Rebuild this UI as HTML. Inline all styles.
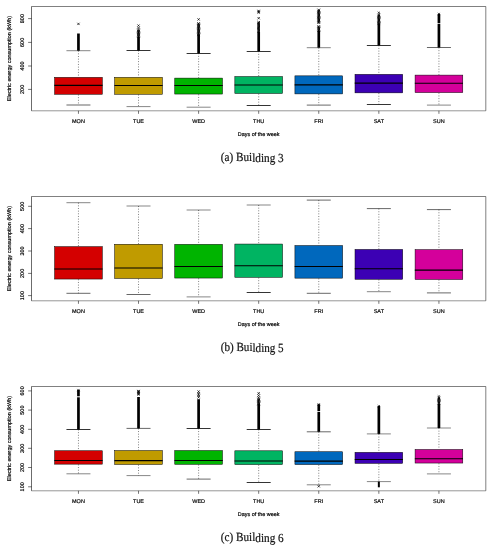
<!DOCTYPE html>
<html><head><meta charset="utf-8"><title>Boxplots</title>
<style>
html,body{margin:0;padding:0;background:#fff}
svg{display:block;text-rendering:geometricPrecision}
.ax{font-family:"Liberation Sans",sans-serif;font-size:55px;fill:#000;stroke:#000;stroke-width:1.8px}
.cap{font-family:"Liberation Serif",serif;font-size:125px;fill:#111;stroke:#111;stroke-width:2px}
</style></head><body>
<svg width="494" height="550" viewBox="0 0 494 550">
<rect width="494" height="550" fill="#fff"/>
<path d="M31.5 110.8V6.5" fill="none" stroke="#000" stroke-width="0.58"/>
<path d="M31.5 6.5H485.8" fill="none" stroke="#000" stroke-width="0.5"/>
<path d="M485.8 6.5V110.8" fill="none" stroke="#000" stroke-width="0.5"/>
<path d="M485.8 110.8H31.5" fill="none" stroke="#000" stroke-width="0.42"/>
<path d="M31.5 18.6H28.1" stroke="#000" stroke-width="0.55"/>
<text transform="translate(24.05 18.6) rotate(-89.9) scale(0.1)" text-anchor="middle" class="ax">800</text>
<path d="M31.5 42.4H28.1" stroke="#000" stroke-width="0.55"/>
<text transform="translate(24.05 42.4) rotate(-89.9) scale(0.1)" text-anchor="middle" class="ax">600</text>
<path d="M31.5 66.0H28.1" stroke="#000" stroke-width="0.55"/>
<text transform="translate(24.05 66.0) rotate(-89.9) scale(0.1)" text-anchor="middle" class="ax">400</text>
<path d="M31.5 89.4H28.1" stroke="#000" stroke-width="0.55"/>
<text transform="translate(24.05 89.4) rotate(-89.9) scale(0.1)" text-anchor="middle" class="ax">200</text>
<text transform="translate(10.75 58.55) rotate(-89.9) scale(0.1)" text-anchor="middle" class="ax" textLength="852.0" lengthAdjust="spacingAndGlyphs">Electric energy consumption (kWh)</text>
<path d="M78.45 110.8V113.8" stroke="#000" stroke-width="0.55"/>
<text transform="translate(78.45 122.7) rotate(0.1) scale(0.1)" text-anchor="middle" class="ax">MON</text>
<path d="M78.45 50.7V77.1M78.45 94.5V105.0" stroke="#000" stroke-width="0.5" stroke-dasharray="1.0 1.65" fill="none"/>
<path d="M66.45 50.7H90.45" stroke="#000" stroke-width="0.48" fill="none"/>
<path d="M66.45 105.0H90.45" stroke="#000" stroke-width="0.6" fill="none"/>
<rect x="54.60" y="77.35" width="47.7" height="16.90" fill="#D40000" stroke="#000" stroke-width="0.5"/>
<path d="M54.35 85.4H102.55" stroke="#000" stroke-width="1.1"/>
<path d="M77.30 22.75L79.60 25.05M77.30 25.05L79.60 22.75" stroke="#000" stroke-width="0.72" fill="none"/>
<path d="M78.45 33.5V50.7" stroke="#000" stroke-width="2.7"/>
<path d="M138.53 110.8V113.8" stroke="#000" stroke-width="0.55"/>
<text transform="translate(138.53 122.7) rotate(0.1) scale(0.1)" text-anchor="middle" class="ax">TUE</text>
<path d="M138.53 50.5V77.1M138.53 94.5V106.6" stroke="#000" stroke-width="0.5" stroke-dasharray="1.0 1.65" fill="none"/>
<path d="M126.53 50.5H150.53" stroke="#000" stroke-width="0.8" fill="none"/>
<path d="M126.53 106.6H150.53" stroke="#000" stroke-width="0.48" fill="none"/>
<rect x="114.68" y="77.35" width="47.7" height="16.90" fill="#C09B00" stroke="#000" stroke-width="0.5"/>
<path d="M114.43 85.45H162.63" stroke="#000" stroke-width="1.1"/>
<path d="M137.38 24.45L139.68 26.75M137.38 26.75L139.68 24.45" stroke="#000" stroke-width="0.72" fill="none"/>
<path d="M137.38 26.85L139.68 29.15M137.38 29.15L139.68 26.85" stroke="#000" stroke-width="0.72" fill="none"/>
<path d="M138.53 30.0V37.0" stroke="#000" stroke-opacity="0.5" stroke-width="2.1"/>
<path d="M137.23 28.70L139.83 31.30M137.23 31.30L139.83 28.70" stroke="#000" stroke-width="0.85" fill="none"/>
<path d="M137.23 29.95L139.83 32.55M137.23 32.55L139.83 29.95" stroke="#000" stroke-width="0.85" fill="none"/>
<path d="M137.23 31.20L139.83 33.80M137.23 33.80L139.83 31.20" stroke="#000" stroke-width="0.85" fill="none"/>
<path d="M137.23 32.45L139.83 35.05M137.23 35.05L139.83 32.45" stroke="#000" stroke-width="0.85" fill="none"/>
<path d="M137.23 33.70L139.83 36.30M137.23 36.30L139.83 33.70" stroke="#000" stroke-width="0.85" fill="none"/>
<path d="M137.23 34.95L139.83 37.55M137.23 37.55L139.83 34.95" stroke="#000" stroke-width="0.85" fill="none"/>
<path d="M138.53 36.5V50.5" stroke="#000" stroke-width="2.7"/>
<path d="M198.61 110.8V113.8" stroke="#000" stroke-width="0.55"/>
<text transform="translate(198.61 122.7) rotate(0.1) scale(0.1)" text-anchor="middle" class="ax">WED</text>
<path d="M198.61 53.2V77.85M198.61 94.3V107.2" stroke="#000" stroke-width="0.5" stroke-dasharray="1.0 1.65" fill="none"/>
<path d="M186.61 53.5H210.61" stroke="#000" stroke-width="0.8" fill="none"/>
<path d="M186.61 107.2H210.61" stroke="#000" stroke-width="0.48" fill="none"/>
<rect x="174.76" y="78.10" width="47.7" height="15.95" fill="#00B400" stroke="#000" stroke-width="0.5"/>
<path d="M174.51 85.5H222.71" stroke="#000" stroke-width="1.1"/>
<path d="M197.46 18.25L199.76 20.55M197.46 20.55L199.76 18.25" stroke="#000" stroke-width="0.72" fill="none"/>
<path d="M198.61 23.5V35.0" stroke="#000" stroke-opacity="0.5" stroke-width="2.1"/>
<path d="M197.31 22.20L199.91 24.80M197.31 24.80L199.91 22.20" stroke="#000" stroke-width="0.85" fill="none"/>
<path d="M197.31 23.45L199.91 26.05M197.31 26.05L199.91 23.45" stroke="#000" stroke-width="0.85" fill="none"/>
<path d="M197.31 24.70L199.91 27.30M197.31 27.30L199.91 24.70" stroke="#000" stroke-width="0.85" fill="none"/>
<path d="M197.31 25.95L199.91 28.55M197.31 28.55L199.91 25.95" stroke="#000" stroke-width="0.85" fill="none"/>
<path d="M197.31 27.20L199.91 29.80M197.31 29.80L199.91 27.20" stroke="#000" stroke-width="0.85" fill="none"/>
<path d="M197.31 28.45L199.91 31.05M197.31 31.05L199.91 28.45" stroke="#000" stroke-width="0.85" fill="none"/>
<path d="M197.31 29.70L199.91 32.30M197.31 32.30L199.91 29.70" stroke="#000" stroke-width="0.85" fill="none"/>
<path d="M197.31 30.95L199.91 33.55M197.31 33.55L199.91 30.95" stroke="#000" stroke-width="0.85" fill="none"/>
<path d="M197.31 32.20L199.91 34.80M197.31 34.80L199.91 32.20" stroke="#000" stroke-width="0.85" fill="none"/>
<path d="M197.31 33.45L199.91 36.05M197.31 36.05L199.91 33.45" stroke="#000" stroke-width="0.85" fill="none"/>
<path d="M198.61 34.5V53.2" stroke="#000" stroke-width="2.7"/>
<path d="M258.69 110.8V113.8" stroke="#000" stroke-width="0.55"/>
<text transform="translate(258.69 122.7) rotate(0.1) scale(0.1)" text-anchor="middle" class="ax">THU</text>
<path d="M258.69 51.2V76.3M258.69 93.7V105.4" stroke="#000" stroke-width="0.5" stroke-dasharray="1.0 1.65" fill="none"/>
<path d="M246.69 51.5H270.69" stroke="#000" stroke-width="0.8" fill="none"/>
<path d="M246.69 105.5H270.69" stroke="#000" stroke-width="0.8" fill="none"/>
<rect x="234.84" y="76.55" width="47.7" height="16.90" fill="#00B462" stroke="#000" stroke-width="0.5"/>
<path d="M234.59 85.06H282.79" stroke="#000" stroke-width="1.1"/>
<path d="M257.54 9.75L259.84 12.05M257.54 12.05L259.84 9.75" stroke="#000" stroke-width="0.72" fill="none"/>
<path d="M257.54 10.55L259.84 12.85M257.54 12.85L259.84 10.55" stroke="#000" stroke-width="0.72" fill="none"/>
<path d="M257.54 11.45L259.84 13.75M257.54 13.75L259.84 11.45" stroke="#000" stroke-width="0.72" fill="none"/>
<path d="M257.54 17.05L259.84 19.35M257.54 19.35L259.84 17.05" stroke="#000" stroke-width="0.72" fill="none"/>
<path d="M258.69 22.3V32.0" stroke="#000" stroke-opacity="0.5" stroke-width="2.1"/>
<path d="M257.39 21.00L259.99 23.60M257.39 23.60L259.99 21.00" stroke="#000" stroke-width="0.85" fill="none"/>
<path d="M257.39 22.25L259.99 24.85M257.39 24.85L259.99 22.25" stroke="#000" stroke-width="0.85" fill="none"/>
<path d="M257.39 23.50L259.99 26.10M257.39 26.10L259.99 23.50" stroke="#000" stroke-width="0.85" fill="none"/>
<path d="M257.39 24.75L259.99 27.35M257.39 27.35L259.99 24.75" stroke="#000" stroke-width="0.85" fill="none"/>
<path d="M257.39 26.00L259.99 28.60M257.39 28.60L259.99 26.00" stroke="#000" stroke-width="0.85" fill="none"/>
<path d="M257.39 27.25L259.99 29.85M257.39 29.85L259.99 27.25" stroke="#000" stroke-width="0.85" fill="none"/>
<path d="M257.39 28.50L259.99 31.10M257.39 31.10L259.99 28.50" stroke="#000" stroke-width="0.85" fill="none"/>
<path d="M257.39 29.75L259.99 32.35M257.39 32.35L259.99 29.75" stroke="#000" stroke-width="0.85" fill="none"/>
<path d="M258.69 31.5V51.2" stroke="#000" stroke-width="2.7"/>
<path d="M318.77 110.8V113.8" stroke="#000" stroke-width="0.55"/>
<text transform="translate(318.77 122.7) rotate(0.1) scale(0.1)" text-anchor="middle" class="ax">FRI</text>
<path d="M318.77 47.7V75.6M318.77 94.15V105.1" stroke="#000" stroke-width="0.5" stroke-dasharray="1.0 1.65" fill="none"/>
<path d="M306.77 47.7H330.77" stroke="#000" stroke-width="0.48" fill="none"/>
<path d="M306.77 105.1H330.77" stroke="#000" stroke-width="0.6" fill="none"/>
<rect x="294.92" y="75.85" width="47.7" height="18.05" fill="#0068BD" stroke="#000" stroke-width="0.5"/>
<path d="M294.67 84.9H342.87" stroke="#000" stroke-width="1.1"/>
<path d="M318.77 10.0V23.6" stroke="#000" stroke-opacity="0.5" stroke-width="2.1"/>
<path d="M317.47 8.70L320.07 11.30M317.47 11.30L320.07 8.70" stroke="#000" stroke-width="0.85" fill="none"/>
<path d="M317.47 9.95L320.07 12.55M317.47 12.55L320.07 9.95" stroke="#000" stroke-width="0.85" fill="none"/>
<path d="M317.47 11.20L320.07 13.80M317.47 13.80L320.07 11.20" stroke="#000" stroke-width="0.85" fill="none"/>
<path d="M317.47 12.45L320.07 15.05M317.47 15.05L320.07 12.45" stroke="#000" stroke-width="0.85" fill="none"/>
<path d="M317.47 13.70L320.07 16.30M317.47 16.30L320.07 13.70" stroke="#000" stroke-width="0.85" fill="none"/>
<path d="M317.47 14.95L320.07 17.55M317.47 17.55L320.07 14.95" stroke="#000" stroke-width="0.85" fill="none"/>
<path d="M317.47 16.20L320.07 18.80M317.47 18.80L320.07 16.20" stroke="#000" stroke-width="0.85" fill="none"/>
<path d="M317.47 17.45L320.07 20.05M317.47 20.05L320.07 17.45" stroke="#000" stroke-width="0.85" fill="none"/>
<path d="M317.47 18.70L320.07 21.30M317.47 21.30L320.07 18.70" stroke="#000" stroke-width="0.85" fill="none"/>
<path d="M317.47 19.95L320.07 22.55M317.47 22.55L320.07 19.95" stroke="#000" stroke-width="0.85" fill="none"/>
<path d="M317.47 21.20L320.07 23.80M317.47 23.80L320.07 21.20" stroke="#000" stroke-width="0.85" fill="none"/>
<path d="M318.77 26.5V31.0" stroke="#000" stroke-opacity="0.5" stroke-width="2.1"/>
<path d="M317.47 25.20L320.07 27.80M317.47 27.80L320.07 25.20" stroke="#000" stroke-width="0.85" fill="none"/>
<path d="M317.47 26.45L320.07 29.05M317.47 29.05L320.07 26.45" stroke="#000" stroke-width="0.85" fill="none"/>
<path d="M317.47 27.70L320.07 30.30M317.47 30.30L320.07 27.70" stroke="#000" stroke-width="0.85" fill="none"/>
<path d="M317.47 28.95L320.07 31.55M317.47 31.55L320.07 28.95" stroke="#000" stroke-width="0.85" fill="none"/>
<path d="M318.77 30.5V47.7" stroke="#000" stroke-width="2.7"/>
<path d="M378.84999999999997 110.8V113.8" stroke="#000" stroke-width="0.55"/>
<text transform="translate(378.84999999999997 122.7) rotate(0.1) scale(0.1)" text-anchor="middle" class="ax">SAT</text>
<path d="M378.84999999999997 45.3V74.1M378.84999999999997 93.1V104.3" stroke="#000" stroke-width="0.5" stroke-dasharray="1.0 1.65" fill="none"/>
<path d="M366.84999999999997 45.5H390.84999999999997" stroke="#000" stroke-width="0.8" fill="none"/>
<path d="M366.84999999999997 104.5H390.84999999999997" stroke="#000" stroke-width="0.8" fill="none"/>
<rect x="355.00" y="74.35" width="47.7" height="18.50" fill="#3C00B4" stroke="#000" stroke-width="0.5"/>
<path d="M354.75 83.1H402.95" stroke="#000" stroke-width="1.1"/>
<path d="M377.70 11.65L380.00 13.95M377.70 13.95L380.00 11.65" stroke="#000" stroke-width="0.72" fill="none"/>
<path d="M378.84999999999997 15.0V24.0" stroke="#000" stroke-opacity="0.5" stroke-width="2.1"/>
<path d="M377.55 13.70L380.15 16.30M377.55 16.30L380.15 13.70" stroke="#000" stroke-width="0.85" fill="none"/>
<path d="M377.55 14.95L380.15 17.55M377.55 17.55L380.15 14.95" stroke="#000" stroke-width="0.85" fill="none"/>
<path d="M377.55 16.20L380.15 18.80M377.55 18.80L380.15 16.20" stroke="#000" stroke-width="0.85" fill="none"/>
<path d="M377.55 17.45L380.15 20.05M377.55 20.05L380.15 17.45" stroke="#000" stroke-width="0.85" fill="none"/>
<path d="M377.55 18.70L380.15 21.30M377.55 21.30L380.15 18.70" stroke="#000" stroke-width="0.85" fill="none"/>
<path d="M377.55 19.95L380.15 22.55M377.55 22.55L380.15 19.95" stroke="#000" stroke-width="0.85" fill="none"/>
<path d="M377.55 21.20L380.15 23.80M377.55 23.80L380.15 21.20" stroke="#000" stroke-width="0.85" fill="none"/>
<path d="M377.55 22.45L380.15 25.05M377.55 25.05L380.15 22.45" stroke="#000" stroke-width="0.85" fill="none"/>
<path d="M378.84999999999997 23.5V45.3" stroke="#000" stroke-width="2.7"/>
<path d="M438.93 110.8V113.8" stroke="#000" stroke-width="0.55"/>
<text transform="translate(438.93 122.7) rotate(0.1) scale(0.1)" text-anchor="middle" class="ax">SUN</text>
<path d="M438.93 47.5V74.85M438.93 92.8V105.1" stroke="#000" stroke-width="0.5" stroke-dasharray="1.0 1.65" fill="none"/>
<path d="M426.93 47.5H450.93" stroke="#000" stroke-width="0.6" fill="none"/>
<path d="M426.93 105.1H450.93" stroke="#000" stroke-width="0.48" fill="none"/>
<rect x="415.08" y="75.10" width="47.7" height="17.45" fill="#D4009B" stroke="#000" stroke-width="0.5"/>
<path d="M414.83 83.2H463.03" stroke="#000" stroke-width="1.1"/>
<path d="M437.78 12.85L440.08 15.15M437.78 15.15L440.08 12.85" stroke="#000" stroke-width="0.72" fill="none"/>
<path d="M438.93 14.0V23.3" stroke="#000" stroke-width="2.7"/>
<path d="M438.93 24.0V47.5" stroke="#000" stroke-width="2.7"/>
<text transform="translate(258.69 136.0) rotate(0.1) scale(0.1)" text-anchor="middle" class="ax" textLength="417.0" lengthAdjust="spacingAndGlyphs">Days of the week</text>
<text transform="translate(252.2 161.5) rotate(0.1) scale(0.1)" text-anchor="middle" class="cap" textLength="629.0" lengthAdjust="spacingAndGlyphs">(a) Building 3</text>
<path d="M31.5 300.8V196.5" fill="none" stroke="#000" stroke-width="0.58"/>
<path d="M31.5 196.5H485.8" fill="none" stroke="#000" stroke-width="0.5"/>
<path d="M485.8 196.5V300.8" fill="none" stroke="#000" stroke-width="0.5"/>
<path d="M485.8 300.8H31.5" fill="none" stroke="#000" stroke-width="0.42"/>
<path d="M31.5 206.3H28.1" stroke="#000" stroke-width="0.55"/>
<text transform="translate(24.05 206.3) rotate(-89.9) scale(0.1)" text-anchor="middle" class="ax">500</text>
<path d="M31.5 228.6H28.1" stroke="#000" stroke-width="0.55"/>
<text transform="translate(24.05 228.6) rotate(-89.9) scale(0.1)" text-anchor="middle" class="ax">400</text>
<path d="M31.5 251.0H28.1" stroke="#000" stroke-width="0.55"/>
<text transform="translate(24.05 251.0) rotate(-89.9) scale(0.1)" text-anchor="middle" class="ax">300</text>
<path d="M31.5 273.4H28.1" stroke="#000" stroke-width="0.55"/>
<text transform="translate(24.05 273.4) rotate(-89.9) scale(0.1)" text-anchor="middle" class="ax">200</text>
<path d="M31.5 295.6H28.1" stroke="#000" stroke-width="0.55"/>
<text transform="translate(24.05 295.6) rotate(-89.9) scale(0.1)" text-anchor="middle" class="ax">100</text>
<text transform="translate(10.75 248.55) rotate(-89.9) scale(0.1)" text-anchor="middle" class="ax" textLength="852.0" lengthAdjust="spacingAndGlyphs">Electric energy consumption (kWh)</text>
<path d="M78.45 300.8V303.8" stroke="#000" stroke-width="0.55"/>
<text transform="translate(78.45 312.7) rotate(0.1) scale(0.1)" text-anchor="middle" class="ax">MON</text>
<path d="M78.45 202.7V246.4M78.45 279.3V293.3" stroke="#000" stroke-width="0.5" stroke-dasharray="1.0 1.65" fill="none"/>
<path d="M66.45 202.7H90.45" stroke="#000" stroke-width="0.48" fill="none"/>
<path d="M66.45 293.3H90.45" stroke="#000" stroke-width="0.6" fill="none"/>
<rect x="54.60" y="246.65" width="47.7" height="32.40" fill="#D40000" stroke="#000" stroke-width="0.5"/>
<path d="M54.35 269.05H102.55" stroke="#000" stroke-width="1.1"/>
<path d="M138.53 300.8V303.8" stroke="#000" stroke-width="0.55"/>
<text transform="translate(138.53 312.7) rotate(0.1) scale(0.1)" text-anchor="middle" class="ax">TUE</text>
<path d="M138.53 206.0V244.0M138.53 278.7V294.5" stroke="#000" stroke-width="0.5" stroke-dasharray="1.0 1.65" fill="none"/>
<path d="M126.53 206.0H150.53" stroke="#000" stroke-width="0.48" fill="none"/>
<path d="M126.53 294.5H150.53" stroke="#000" stroke-width="0.6" fill="none"/>
<rect x="114.68" y="244.25" width="47.7" height="34.20" fill="#C09B00" stroke="#000" stroke-width="0.5"/>
<path d="M114.43 268.0H162.63" stroke="#000" stroke-width="1.1"/>
<path d="M198.61 300.8V303.8" stroke="#000" stroke-width="0.55"/>
<text transform="translate(198.61 312.7) rotate(0.1) scale(0.1)" text-anchor="middle" class="ax">WED</text>
<path d="M198.61 210.0V244.1M198.61 278.3V296.9" stroke="#000" stroke-width="0.5" stroke-dasharray="1.0 1.65" fill="none"/>
<path d="M186.61 210.0H210.61" stroke="#000" stroke-width="0.48" fill="none"/>
<path d="M186.61 296.9H210.61" stroke="#000" stroke-width="0.48" fill="none"/>
<rect x="174.76" y="244.35" width="47.7" height="33.70" fill="#00B400" stroke="#000" stroke-width="0.5"/>
<path d="M174.51 266.45H222.71" stroke="#000" stroke-width="1.1"/>
<path d="M258.69 300.8V303.8" stroke="#000" stroke-width="0.55"/>
<text transform="translate(258.69 312.7) rotate(0.1) scale(0.1)" text-anchor="middle" class="ax">THU</text>
<path d="M258.69 205.0V243.8M258.69 277.55V292.3" stroke="#000" stroke-width="0.5" stroke-dasharray="1.0 1.65" fill="none"/>
<path d="M246.69 205.0H270.69" stroke="#000" stroke-width="0.48" fill="none"/>
<path d="M246.69 292.5H270.69" stroke="#000" stroke-width="0.8" fill="none"/>
<rect x="234.84" y="244.05" width="47.7" height="33.25" fill="#00B462" stroke="#000" stroke-width="0.5"/>
<path d="M234.59 265.8H282.79" stroke="#000" stroke-width="1.1"/>
<path d="M318.77 300.8V303.8" stroke="#000" stroke-width="0.55"/>
<text transform="translate(318.77 312.7) rotate(0.1) scale(0.1)" text-anchor="middle" class="ax">FRI</text>
<path d="M318.77 200.1V245.3M318.77 278.4V293.3" stroke="#000" stroke-width="0.5" stroke-dasharray="1.0 1.65" fill="none"/>
<path d="M306.77 200.1H330.77" stroke="#000" stroke-width="0.6" fill="none"/>
<path d="M306.77 293.3H330.77" stroke="#000" stroke-width="0.6" fill="none"/>
<rect x="294.92" y="245.55" width="47.7" height="32.60" fill="#0068BD" stroke="#000" stroke-width="0.5"/>
<path d="M294.67 266.45H342.87" stroke="#000" stroke-width="1.1"/>
<path d="M378.84999999999997 300.8V303.8" stroke="#000" stroke-width="0.55"/>
<text transform="translate(378.84999999999997 312.7) rotate(0.1) scale(0.1)" text-anchor="middle" class="ax">SAT</text>
<path d="M378.84999999999997 208.6V249.2M378.84999999999997 279.5V291.7" stroke="#000" stroke-width="0.5" stroke-dasharray="1.0 1.65" fill="none"/>
<path d="M366.84999999999997 208.6H390.84999999999997" stroke="#000" stroke-width="0.6" fill="none"/>
<path d="M366.84999999999997 291.7H390.84999999999997" stroke="#000" stroke-width="0.48" fill="none"/>
<rect x="355.00" y="249.45" width="47.7" height="29.80" fill="#3C00B4" stroke="#000" stroke-width="0.5"/>
<path d="M354.75 268.8H402.95" stroke="#000" stroke-width="1.1"/>
<path d="M438.93 300.8V303.8" stroke="#000" stroke-width="0.55"/>
<text transform="translate(438.93 312.7) rotate(0.1) scale(0.1)" text-anchor="middle" class="ax">SUN</text>
<path d="M438.93 209.6V249.4M438.93 279.7V292.9" stroke="#000" stroke-width="0.5" stroke-dasharray="1.0 1.65" fill="none"/>
<path d="M426.93 209.6H450.93" stroke="#000" stroke-width="0.6" fill="none"/>
<path d="M426.93 292.9H450.93" stroke="#000" stroke-width="0.6" fill="none"/>
<rect x="415.08" y="249.65" width="47.7" height="29.80" fill="#D4009B" stroke="#000" stroke-width="0.5"/>
<path d="M414.83 270.1H463.03" stroke="#000" stroke-width="1.1"/>
<text transform="translate(258.69 326.0) rotate(0.1) scale(0.1)" text-anchor="middle" class="ax" textLength="417.0" lengthAdjust="spacingAndGlyphs">Days of the week</text>
<text transform="translate(252.2 351.5) rotate(0.1) scale(0.1)" text-anchor="middle" class="cap" textLength="629.0" lengthAdjust="spacingAndGlyphs">(b) Building 5</text>
<path d="M31.5 490.8V386.5" fill="none" stroke="#000" stroke-width="0.58"/>
<path d="M31.5 386.5H485.8" fill="none" stroke="#000" stroke-width="0.5"/>
<path d="M485.8 386.5V490.8" fill="none" stroke="#000" stroke-width="0.5"/>
<path d="M485.8 490.8H31.5" fill="none" stroke="#000" stroke-width="0.42"/>
<path d="M31.5 390.9H28.1" stroke="#000" stroke-width="0.55"/>
<text transform="translate(24.05 390.9) rotate(-89.9) scale(0.1)" text-anchor="middle" class="ax">600</text>
<path d="M31.5 410.1H28.1" stroke="#000" stroke-width="0.55"/>
<text transform="translate(24.05 410.1) rotate(-89.9) scale(0.1)" text-anchor="middle" class="ax">500</text>
<path d="M31.5 429.3H28.1" stroke="#000" stroke-width="0.55"/>
<text transform="translate(24.05 429.3) rotate(-89.9) scale(0.1)" text-anchor="middle" class="ax">400</text>
<path d="M31.5 448.3H28.1" stroke="#000" stroke-width="0.55"/>
<text transform="translate(24.05 448.3) rotate(-89.9) scale(0.1)" text-anchor="middle" class="ax">300</text>
<path d="M31.5 467.5H28.1" stroke="#000" stroke-width="0.55"/>
<text transform="translate(24.05 467.5) rotate(-89.9) scale(0.1)" text-anchor="middle" class="ax">200</text>
<path d="M31.5 486.8H28.1" stroke="#000" stroke-width="0.55"/>
<text transform="translate(24.05 486.8) rotate(-89.9) scale(0.1)" text-anchor="middle" class="ax">100</text>
<text transform="translate(10.75 438.54999999999995) rotate(-89.9) scale(0.1)" text-anchor="middle" class="ax" textLength="852.0" lengthAdjust="spacingAndGlyphs">Electric energy consumption (kWh)</text>
<path d="M78.45 490.8V493.8" stroke="#000" stroke-width="0.55"/>
<text transform="translate(78.45 502.7) rotate(0.1) scale(0.1)" text-anchor="middle" class="ax">MON</text>
<path d="M78.45 429.5V450.5M78.45 464.4V473.8" stroke="#000" stroke-width="0.5" stroke-dasharray="1.0 1.65" fill="none"/>
<path d="M66.45 429.5H90.45" stroke="#000" stroke-width="0.8" fill="none"/>
<path d="M66.45 473.8H90.45" stroke="#000" stroke-width="0.48" fill="none"/>
<rect x="54.60" y="450.75" width="47.7" height="13.40" fill="#D40000" stroke="#000" stroke-width="0.5"/>
<path d="M54.35 460.5H102.55" stroke="#000" stroke-width="1.1"/>
<path d="M77.30 388.95L79.60 391.25M77.30 391.25L79.60 388.95" stroke="#000" stroke-width="0.72" fill="none"/>
<path d="M78.45 390.0V396.3" stroke="#000" stroke-width="2.7"/>
<path d="M78.45 397.3V429.5" stroke="#000" stroke-width="2.7"/>
<path d="M138.53 490.8V493.8" stroke="#000" stroke-width="0.55"/>
<text transform="translate(138.53 502.7) rotate(0.1) scale(0.1)" text-anchor="middle" class="ax">TUE</text>
<path d="M138.53 428.4V450.3M138.53 464.7V475.6" stroke="#000" stroke-width="0.5" stroke-dasharray="1.0 1.65" fill="none"/>
<path d="M126.53 428.4H150.53" stroke="#000" stroke-width="0.6" fill="none"/>
<path d="M126.53 475.6H150.53" stroke="#000" stroke-width="0.48" fill="none"/>
<rect x="114.68" y="450.55" width="47.7" height="13.90" fill="#C09B00" stroke="#000" stroke-width="0.5"/>
<path d="M114.43 460.6H162.63" stroke="#000" stroke-width="1.1"/>
<path d="M137.38 389.85L139.68 392.15M137.38 392.15L139.68 389.85" stroke="#000" stroke-width="0.72" fill="none"/>
<path d="M138.53 391.6V395.2" stroke="#000" stroke-opacity="0.5" stroke-width="2.1"/>
<path d="M137.23 390.30L139.83 392.90M137.23 392.90L139.83 390.30" stroke="#000" stroke-width="0.85" fill="none"/>
<path d="M137.23 391.55L139.83 394.15M137.23 394.15L139.83 391.55" stroke="#000" stroke-width="0.85" fill="none"/>
<path d="M137.23 392.80L139.83 395.40M137.23 395.40L139.83 392.80" stroke="#000" stroke-width="0.85" fill="none"/>
<path d="M138.53 397.0V428.4" stroke="#000" stroke-width="2.7"/>
<path d="M198.61 490.8V493.8" stroke="#000" stroke-width="0.55"/>
<text transform="translate(198.61 502.7) rotate(0.1) scale(0.1)" text-anchor="middle" class="ax">WED</text>
<path d="M198.61 428.4V450.3M198.61 464.55V479.1" stroke="#000" stroke-width="0.5" stroke-dasharray="1.0 1.65" fill="none"/>
<path d="M186.61 428.5H210.61" stroke="#000" stroke-width="0.8" fill="none"/>
<path d="M186.61 479.1H210.61" stroke="#000" stroke-width="0.6" fill="none"/>
<rect x="174.76" y="450.55" width="47.7" height="13.75" fill="#00B400" stroke="#000" stroke-width="0.5"/>
<path d="M174.51 460.5H222.71" stroke="#000" stroke-width="1.1"/>
<path d="M197.46 390.35L199.76 392.65M197.46 392.65L199.76 390.35" stroke="#000" stroke-width="0.72" fill="none"/>
<path d="M197.46 392.05L199.76 394.35M197.46 394.35L199.76 392.05" stroke="#000" stroke-width="0.72" fill="none"/>
<path d="M197.46 393.45L199.76 395.75M197.46 395.75L199.76 393.45" stroke="#000" stroke-width="0.72" fill="none"/>
<path d="M197.46 394.85L199.76 397.15M197.46 397.15L199.76 394.85" stroke="#000" stroke-width="0.72" fill="none"/>
<path d="M197.46 396.25L199.76 398.55M197.46 398.55L199.76 396.25" stroke="#000" stroke-width="0.72" fill="none"/>
<path d="M198.61 399.2V428.4" stroke="#000" stroke-width="2.7"/>
<path d="M258.69 490.8V493.8" stroke="#000" stroke-width="0.55"/>
<text transform="translate(258.69 502.7) rotate(0.1) scale(0.1)" text-anchor="middle" class="ax">THU</text>
<path d="M258.69 429.5V450.55M258.69 464.8V482.0" stroke="#000" stroke-width="0.5" stroke-dasharray="1.0 1.65" fill="none"/>
<path d="M246.69 429.5H270.69" stroke="#000" stroke-width="0.8" fill="none"/>
<path d="M246.69 482.5H270.69" stroke="#000" stroke-width="0.8" fill="none"/>
<rect x="234.84" y="450.80" width="47.7" height="13.75" fill="#00B462" stroke="#000" stroke-width="0.5"/>
<path d="M234.59 460.95H282.79" stroke="#000" stroke-width="1.1"/>
<path d="M257.54 392.15L259.84 394.45M257.54 394.45L259.84 392.15" stroke="#000" stroke-width="0.72" fill="none"/>
<path d="M257.54 394.35L259.84 396.65M257.54 396.65L259.84 394.35" stroke="#000" stroke-width="0.72" fill="none"/>
<path d="M257.54 396.35L259.84 398.65M257.54 398.65L259.84 396.35" stroke="#000" stroke-width="0.72" fill="none"/>
<path d="M258.69 399.0V404.5" stroke="#000" stroke-opacity="0.5" stroke-width="2.1"/>
<path d="M257.39 397.70L259.99 400.30M257.39 400.30L259.99 397.70" stroke="#000" stroke-width="0.85" fill="none"/>
<path d="M257.39 398.95L259.99 401.55M257.39 401.55L259.99 398.95" stroke="#000" stroke-width="0.85" fill="none"/>
<path d="M257.39 400.20L259.99 402.80M257.39 402.80L259.99 400.20" stroke="#000" stroke-width="0.85" fill="none"/>
<path d="M257.39 401.45L259.99 404.05M257.39 404.05L259.99 401.45" stroke="#000" stroke-width="0.85" fill="none"/>
<path d="M257.39 402.70L259.99 405.30M257.39 405.30L259.99 402.70" stroke="#000" stroke-width="0.85" fill="none"/>
<path d="M258.69 404.0V429.5" stroke="#000" stroke-width="2.7"/>
<path d="M318.77 490.8V493.8" stroke="#000" stroke-width="0.55"/>
<text transform="translate(318.77 502.7) rotate(0.1) scale(0.1)" text-anchor="middle" class="ax">FRI</text>
<path d="M318.77 431.8V451.5M318.77 464.8V484.8" stroke="#000" stroke-width="0.5" stroke-dasharray="1.0 1.65" fill="none"/>
<path d="M306.77 431.8H330.77" stroke="#000" stroke-width="0.6" fill="none"/>
<path d="M306.77 484.8H330.77" stroke="#000" stroke-width="0.48" fill="none"/>
<rect x="294.92" y="451.75" width="47.7" height="12.80" fill="#0068BD" stroke="#000" stroke-width="0.5"/>
<path d="M294.67 461.1H342.87" stroke="#000" stroke-width="1.1"/>
<path d="M317.62 403.25L319.92 405.55M317.62 405.55L319.92 403.25" stroke="#000" stroke-width="0.72" fill="none"/>
<path d="M318.77 404.2V411.0" stroke="#000" stroke-width="2.7"/>
<path d="M318.77 411.8V431.8" stroke="#000" stroke-width="2.7"/>
<path d="M317.62 485.15L319.92 487.45M317.62 487.45L319.92 485.15" stroke="#000" stroke-width="0.72" fill="none"/>
<path d="M378.84999999999997 490.8V493.8" stroke="#000" stroke-width="0.55"/>
<text transform="translate(378.84999999999997 502.7) rotate(0.1) scale(0.1)" text-anchor="middle" class="ax">SAT</text>
<path d="M378.84999999999997 433.9V452.1M378.84999999999997 463.6V481.6" stroke="#000" stroke-width="0.5" stroke-dasharray="1.0 1.65" fill="none"/>
<path d="M366.84999999999997 433.9H390.84999999999997" stroke="#000" stroke-width="0.48" fill="none"/>
<path d="M366.84999999999997 481.6H390.84999999999997" stroke="#000" stroke-width="0.48" fill="none"/>
<rect x="355.00" y="452.35" width="47.7" height="11.00" fill="#3C00B4" stroke="#000" stroke-width="0.5"/>
<path d="M354.75 459.5H402.95" stroke="#000" stroke-width="1.1"/>
<path d="M377.70 405.05L380.00 407.35M377.70 407.35L380.00 405.05" stroke="#000" stroke-width="0.72" fill="none"/>
<path d="M378.84999999999997 406.0V433.9" stroke="#000" stroke-width="2.7"/>
<path d="M378.84999999999997 481.6V487.3" stroke="#000" stroke-width="2.0"/>
<path d="M438.93 490.8V493.8" stroke="#000" stroke-width="0.55"/>
<text transform="translate(438.93 502.7) rotate(0.1) scale(0.1)" text-anchor="middle" class="ax">SUN</text>
<path d="M438.93 428.0V449.25M438.93 463.3V473.9" stroke="#000" stroke-width="0.5" stroke-dasharray="1.0 1.65" fill="none"/>
<path d="M426.93 428.0H450.93" stroke="#000" stroke-width="0.48" fill="none"/>
<path d="M426.93 473.9H450.93" stroke="#000" stroke-width="0.48" fill="none"/>
<rect x="415.08" y="449.50" width="47.7" height="13.55" fill="#D4009B" stroke="#000" stroke-width="0.5"/>
<path d="M414.83 458.8H463.03" stroke="#000" stroke-width="1.1"/>
<path d="M437.78 395.35L440.08 397.65M437.78 397.65L440.08 395.35" stroke="#000" stroke-width="0.72" fill="none"/>
<path d="M438.93 398.0V403.5" stroke="#000" stroke-opacity="0.5" stroke-width="2.1"/>
<path d="M437.63 396.70L440.23 399.30M437.63 399.30L440.23 396.70" stroke="#000" stroke-width="0.85" fill="none"/>
<path d="M437.63 397.95L440.23 400.55M437.63 400.55L440.23 397.95" stroke="#000" stroke-width="0.85" fill="none"/>
<path d="M437.63 399.20L440.23 401.80M437.63 401.80L440.23 399.20" stroke="#000" stroke-width="0.85" fill="none"/>
<path d="M437.63 400.45L440.23 403.05M437.63 403.05L440.23 400.45" stroke="#000" stroke-width="0.85" fill="none"/>
<path d="M437.63 401.70L440.23 404.30M437.63 404.30L440.23 401.70" stroke="#000" stroke-width="0.85" fill="none"/>
<path d="M438.93 403.6V428.0" stroke="#000" stroke-width="2.7"/>
<text transform="translate(258.69 516.0) rotate(0.1) scale(0.1)" text-anchor="middle" class="ax" textLength="417.0" lengthAdjust="spacingAndGlyphs">Days of the week</text>
<text transform="translate(252.2 541.5) rotate(0.1) scale(0.1)" text-anchor="middle" class="cap" textLength="629.0" lengthAdjust="spacingAndGlyphs">(c) Building 6</text>
</svg>
</body></html>
